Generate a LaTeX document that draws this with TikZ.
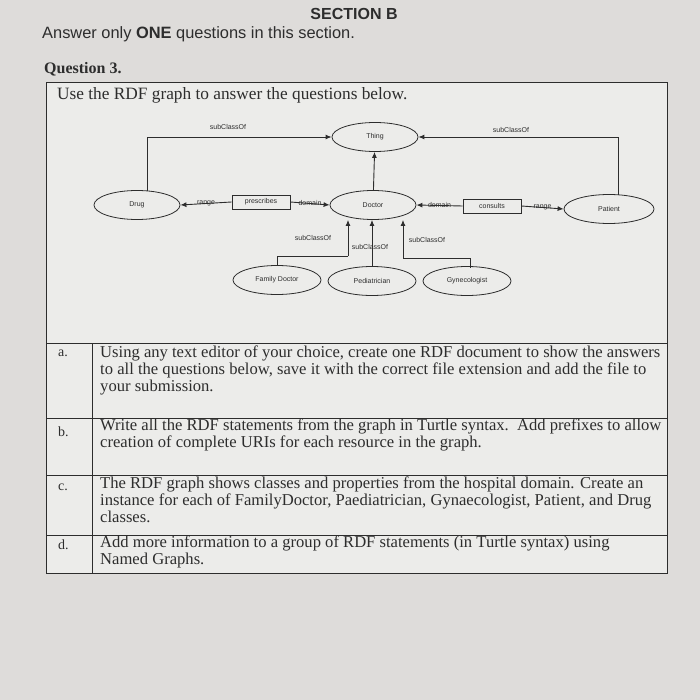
\documentclass[tikz,border=0pt]{standalone}
\usepackage{fontspec}
\setmainfont{Liberation Serif}
\setsansfont{Liberation Sans}
\usetikzlibrary{arrows.meta,shapes.geometric}
\definecolor{bg}{RGB}{222,220,218}
\definecolor{tb}{RGB}{236,236,234}
\definecolor{ink}{RGB}{45,45,45}
\tikzset{
 cls/.style={draw=ink,line width=0.8pt,ellipse,minimum width=86pt,minimum height=29pt,inner sep=0pt,font=\sffamily\fontsize{7}{8}\selectfont,text=ink},
 prop/.style={draw=ink,line width=0.8pt,rectangle,minimum width=58pt,minimum height=14pt,inner sep=1pt,font=\sffamily\fontsize{7}{8}\selectfont,text=ink},
 lbl/.style={font=\sffamily\fontsize{7}{8}\selectfont,text=ink,inner sep=1pt},
 edge/.style={draw=ink,line width=0.9pt,-{Latex[length=6pt,width=5pt]}},
 plain/.style={draw=ink,line width=0.9pt},
 qtext/.style={anchor=north west,align=left,font=\fontsize{16.6}{17}\selectfont,text=ink,inner sep=0pt},
 qlab/.style={anchor=north west,font=\fontsize{14}{15}\selectfont,text=ink,inner sep=0pt},
}
\begin{document}
\begin{tikzpicture}[x=1pt,y=-1pt]
\fill[bg] (0,0) rectangle (700,700);
\useasboundingbox (0,0) rectangle (700,700);
\fill[tb] (46,82) rectangle (667,573);
\draw[ink,line width=0.7pt] (46,82) -- (667,82) -- (667,573) -- (46,573) -- cycle;
\foreach \yy in {343,418,475,535} \draw[ink,line width=0.7pt] (46,\yy) -- (667,\yy);
\draw[ink,line width=0.7pt] (92,343) -- (92,573);
\node[font=\sffamily\bfseries\fontsize{16}{18}\selectfont,text=ink] (sec) at (354,14) {SECTION B};
\node[anchor=west,font=\sffamily\fontsize{16.4}{18}\selectfont,text=ink,inner sep=0pt] (ans) at (42,34) {Answer only \textbf{ONE} questions in this section.};
\node[anchor=west,font=\bfseries\fontsize{16}{18}\selectfont,text=ink,inner sep=0pt] (q3) at (44,69) {Question 3.};
\node[anchor=west,font=\fontsize{17.3}{19}\selectfont,text=ink,inner sep=0pt] (use) at (57,95) {Use the RDF graph to answer the questions below.};
% graph
\node[cls] (thing) at (375,137) {Thing};
\node[cls] (drug) at (137,205) {Drug};
\node[cls] (doctor) at (373,205) {Doctor};
\node[cls,minimum width=90pt] (patient) at (609,209) {Patient};
\node[prop] (presc) at (261,202) {prescribes};
\node[prop] (cons) at (492,206) {consults};
\node[cls,minimum width=88pt] (fd) at (277,280) {Family Doctor};
\node[cls,minimum width=88pt] (ped) at (372,281) {Pediatrician};
\node[cls,minimum width=88pt] (gyn) at (467,281) {Gynecologist};
\coordinate (dtop) at (147,191);
\coordinate (ptop) at (618,195);
\draw[edge] (dtop) |- (thing.west);
\draw[edge] (ptop) |- (thing.east);
\node[lbl] (l1) at (228,127) {subClassOf};
\node[lbl] (l2) at (511,130) {subClassOf};
\draw[edge] (doctor) -- (thing);
\draw[edge] (presc.west) -- (drug.east) node[lbl,midway,above=-4pt] {range};
\draw[edge] (presc.east) -- (doctor.west) node[lbl,midway,above=-4pt] {domain};
\draw[edge] (cons.west) -- (doctor.east) node[lbl,midway,above=-4pt] {domain};
\draw[edge] (cons.east) -- (patient.west) node[lbl,midway,above=-4pt] {range};
\coordinate (fdc) at (348,256);
\coordinate (gyc) at (403,258);
\coordinate (gtop) at (470,268);
\draw[plain] (fd.north) |- (fdc);
\draw[edge] (fdc) -- (fdc |- doctor.south);
\draw[edge] (ped) -- (ped |- doctor.south);
\draw[plain] (gtop) |- (gyc);
\draw[edge] (gyc) -- (gyc |- doctor.south);
\node[lbl] (l3) at (313,238) {subClassOf};
\node[lbl] (l4) at (370,247) {subClassOf};
\node[lbl] (l5) at (427,240) {subClassOf};
% questions
\node[qlab] (a) at (58,350) {a.};
\node[qtext] (ta) at (100,346) {Using any text editor of your choice, create one RDF document to show the answers\\to all the questions below, save it with the correct file extension and add the file to\\your submission.};
\node[qlab] (b) at (58,427) {b.};
\node[qtext] (tb) at (100,419) {Write all the RDF statements from the graph in Turtle syntax.\ \ Add prefixes to allow\\creation of complete URIs for each resource in the graph.};
\node[qlab] (c) at (58,484) {c.};
\node[qtext] (tc) at (100,477) {The RDF graph shows classes and properties from the hospital domain. Create an\\instance for each of FamilyDoctor, Paediatrician, Gynaecologist, Patient, and Drug\\classes.};
\node[qlab] (d) at (58,540) {d.};
\node[qtext] (td) at (100,536) {Add more information to a group of RDF statements (in Turtle syntax) using\\Named Graphs.};
\end{tikzpicture}
\end{document}
